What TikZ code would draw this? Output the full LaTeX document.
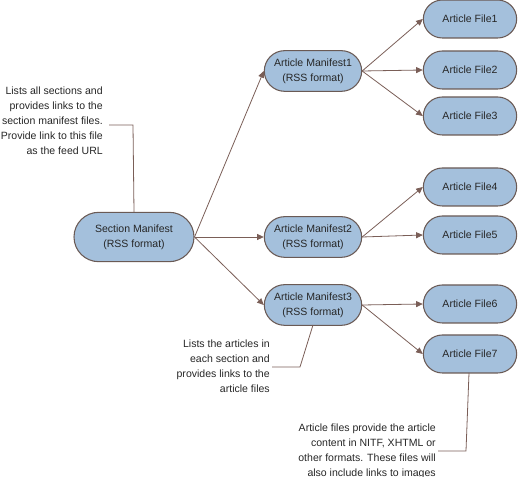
\documentclass[tikz,border=0pt]{standalone}
\usepackage{fontspec}
\setmainfont{Liberation Sans}
\usetikzlibrary{shapes.misc,arrows.meta}
\definecolor{boxfill}{HTML}{A4C0DC}
\definecolor{boxline}{HTML}{6A5A55}
\definecolor{arrowcol}{HTML}{7A5E57}
\begin{document}
\begin{tikzpicture}[x=0.75pt,y=-0.75pt,
  font=\fontsize{7.9}{11.2}\selectfont,
  pill/.style={rounded rectangle, draw=boxline, fill=boxfill, line width=0.8pt,
    minimum width=75pt, minimum height=30.5pt, inner sep=1pt, align=center, text=black!85},
  bigpill/.style={pill, minimum width=92pt, minimum height=37pt},
  filepill/.style={pill, minimum width=72pt, minimum height=28.5pt},
  conn/.style={draw=arrowcol, line width=0.6pt, -{Triangle[length=5pt,width=4.5pt]}},
  note/.style={align=right, anchor=east, text=black!85, inner sep=0pt},
  noteline/.style={draw=arrowcol, line width=0.6pt}]
\useasboundingbox (0,0) rectangle (519,477);
\node[bigpill] (sm) at (134,237) {Section Manifest\\(RSS format)};
\node[pill] (am1) at (313,71) {Article Manifest1\\(RSS format)};
\node[pill] (am2) at (313,237) {Article Manifest2\\(RSS format)};
\node[pill] (am3) at (313,305) {Article Manifest3\\(RSS format)};
\node[filepill] (f1) at (470,19) {Article File1};
\node[filepill] (f2) at (470,70) {Article File2};
\node[filepill] (f3) at (470,116) {Article File3};
\node[filepill] (f4) at (470,187) {Article File4};
\node[filepill] (f5) at (470,235) {Article File5};
\node[filepill] (f6) at (470,304) {Article File6};
\node[filepill] (f7) at (470,354) {Article File7};

\draw[conn] (sm.east) -- (am1.west);
\draw[conn] (sm.east) -- (am2.west);
\draw[conn] (sm.east) -- (am3.west);
\draw[conn] (am1.east) -- (f1.west);
\draw[conn] (am1.east) -- (f2.west);
\draw[conn] (am1.east) -- (f3.west);
\draw[conn] (am2.east) -- (f4.west);
\draw[conn] (am2.east) -- (f5.west);
\draw[conn] (am3.east) -- (f6.west);
\draw[conn] (am3.east) -- (f7.west);

\node[note] (n1) at (103,121) {Lists all sections and\\provides links to the\\section manifest files.\\Provide link to this file\\as the feed URL};
\coordinate (n1k) at (133,125);
\draw[noteline] (109,125) -- (n1k) -- (sm.north);

\node[note] (n2) at (270,366) {Lists the articles in\\each section and\\provides links to the\\article files};
\coordinate (n2k) at (300,367);
\coordinate (n2t) at (313,325);
\draw[noteline] (272,367) -- (n2k) -- (n2t);

\node[note] (n3) at (436,451) {Article files provide the article\\content in NITF, XHTML or\\other formats. These files will\\also include links to images};
\coordinate (n3k) at (466,451);
\coordinate (n3t) at (469,373);
\draw[noteline] (438,451) -- (n3k) -- (n3t);
\end{tikzpicture}
\end{document}
